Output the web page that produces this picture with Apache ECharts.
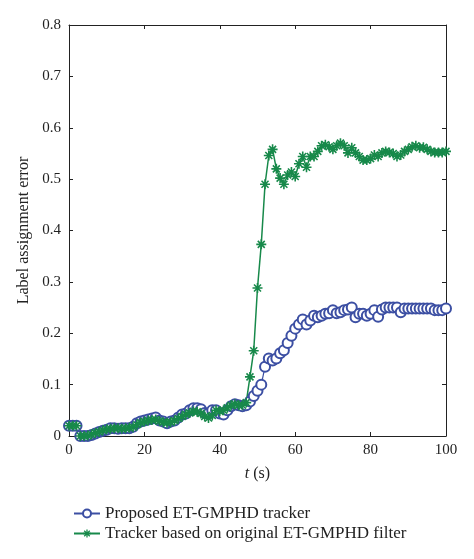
<!DOCTYPE html>
<html>
<head>
<meta charset="UTF-8">
<title></title>
<style type="text/css">
  * {margin: 0; padding: 0;}
  html, body {width: 474px; height: 559px; background: #fff;}
  #chart {width: 474px; height: 559px;}
</style>
<script src="https://cdn.jsdelivr.net/npm/echarts@6/dist/echarts.min.js"></script>
</head>
<body>
<div id="chart"></div>
<script type="text/javascript">
// one sample per second, t = 0 .. 100
var proposed = [
  0.020, 0.020, 0.020, 0.000, 0.000, 0.000, 0.002, 0.005, 0.008, 0.010,
  0.012, 0.015, 0.015, 0.014, 0.015, 0.015, 0.015, 0.018, 0.025, 0.028,
  0.030, 0.032, 0.034, 0.036, 0.030, 0.028, 0.025, 0.028, 0.030, 0.036,
  0.042, 0.044, 0.050, 0.054, 0.054, 0.052, 0.045, 0.044, 0.050, 0.050,
  0.044, 0.042, 0.050, 0.058, 0.062, 0.060, 0.058, 0.060, 0.067, 0.078,
  0.088, 0.100, 0.135, 0.151, 0.147, 0.151, 0.161, 0.167, 0.181, 0.195,
  0.209, 0.217, 0.227, 0.217, 0.225, 0.234, 0.231, 0.234, 0.238, 0.239,
  0.245, 0.239, 0.241, 0.245, 0.246, 0.250, 0.231, 0.238, 0.238, 0.234,
  0.238, 0.245, 0.232, 0.246, 0.250, 0.250, 0.250, 0.250, 0.241, 0.248,
  0.248, 0.248, 0.248, 0.248, 0.248, 0.248, 0.248, 0.245, 0.245, 0.245,
  0.248
];
var original = [
  0.020, 0.020, 0.020, 0.000, 0.000, 0.001, 0.003, 0.006, 0.008, 0.011,
  0.013, 0.014, 0.015, 0.015, 0.014, 0.015, 0.016, 0.017, 0.022, 0.026,
  0.028, 0.030, 0.031, 0.032, 0.029, 0.027, 0.026, 0.027, 0.030, 0.034,
  0.038, 0.042, 0.045, 0.048, 0.047, 0.044, 0.038, 0.035, 0.040, 0.050,
  0.048, 0.050, 0.055, 0.060, 0.062, 0.060, 0.060, 0.065, 0.115, 0.166,
  0.288, 0.373, 0.490, 0.546, 0.558, 0.520, 0.502, 0.490, 0.508, 0.514,
  0.505, 0.530, 0.544, 0.523, 0.544, 0.544, 0.554, 0.565, 0.567, 0.563,
  0.558, 0.565, 0.570, 0.565, 0.551, 0.561, 0.551, 0.544, 0.537, 0.537,
  0.540, 0.547, 0.544, 0.551, 0.554, 0.552, 0.550, 0.544, 0.547, 0.554,
  0.558, 0.563, 0.565, 0.561, 0.562, 0.558, 0.554, 0.552, 0.552, 0.552,
  0.554
];
var seriesNames = ['Proposed ET-GMPHD tracker', 'Tracker based on original ET-GMPHD filter'];

var blue = '#3c4fa3';
var green = '#17894a';
var font = 'Liberation Serif';

// asterisk marker (MATLAB '*')
var star = 'path://M-10 -1.6L10 -1.6L10 1.6L-10 1.6Z M-1.6 -10L1.6 -10L1.6 10L-1.6 10Z ' +
           'M-5.9 -8.1L8.1 5.9L5.9 8.1L-8.1 -5.9Z M5.9 -8.1L8.1 -5.9L-5.9 8.1L-8.1 5.9Z';

function pairs(arr) {
  return arr.map(function (v, i) { return [i, v]; });
}

var chart = echarts.init(document.getElementById('chart'));

var axisLine = {show: true, onZero: false, lineStyle: {color: '#222', width: 1}};
var tick = {show: true, inside: true, length: 4, lineStyle: {color: '#222'}};

var option = {
  animation: false,
  grid: {left: 69, right: 28, top: 25, bottom: 123},
  legend: {
    orient: 'vertical',
    left: 68,
    top: 500,
    itemGap: 3,
    itemWidth: 26,
    itemHeight: 10,
    textStyle: {color: '#222', fontFamily: font, fontSize: 17},
    data: seriesNames
  },
  xAxis: [
    {
      type: 'value', min: 0, max: 100, interval: 20,
      name: '{i|t} (s)', nameLocation: 'middle', nameGap: 30,
      nameTextStyle: {color: '#222', fontFamily: font, fontSize: 16,
        rich: {i: {fontStyle: 'italic', fontFamily: font, fontSize: 16, color: '#222'}}},
      axisLine: axisLine, axisTick: tick,
      axisLabel: {color: '#222', fontFamily: font, fontSize: 15, margin: 7},
      splitLine: {show: false}
    },
    {
      type: 'value', min: 0, max: 100, interval: 20, position: 'top',
      axisLine: axisLine, axisTick: tick, axisLabel: {show: false},
      splitLine: {show: false}
    }
  ],
  yAxis: [
    {
      type: 'value', min: 0, max: 0.8, interval: 0.1,
      name: 'Label assignment error', nameLocation: 'middle', nameGap: 36,
      nameTextStyle: {color: '#222', fontFamily: font, fontSize: 16},
      axisLine: axisLine, axisTick: tick,
      axisLabel: {color: '#222', fontFamily: font, fontSize: 15, margin: 8,
        formatter: function (v) { return v === 0 ? '0' : v.toFixed(1); }},
      splitLine: {show: false}
    },
    {
      type: 'value', min: 0, max: 0.8, interval: 0.1, position: 'right',
      axisLine: axisLine, axisTick: tick, axisLabel: {show: false},
      splitLine: {show: false}
    }
  ],
  series: [
    {
      name: seriesNames[0], type: 'line', xAxisIndex: 0, yAxisIndex: 0,
      data: pairs(proposed),
      symbol: 'emptyCircle', symbolSize: 10, showAllSymbol: true,
      lineStyle: {color: blue, width: 1.2},
      itemStyle: {color: blue, borderColor: blue, borderWidth: 1.2}
    },
    {
      name: seriesNames[1], type: 'line', xAxisIndex: 0, yAxisIndex: 0,
      data: pairs(original),
      symbol: star, symbolSize: 10, showAllSymbol: true,
      lineStyle: {color: green, width: 1.5},
      itemStyle: {color: green}
    }
  ]
};

chart.setOption(option);
</script>
</body>
</html>
